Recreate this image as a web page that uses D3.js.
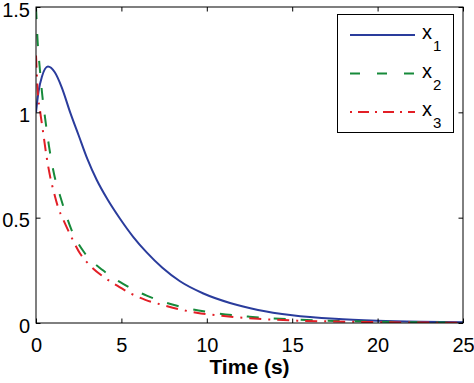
<!DOCTYPE html>
<html><head><meta charset="utf-8">
<script src="https://cdn.jsdelivr.net/npm/d3@7"></script>
<style>html,body{margin:0;padding:0;background:#fff;}svg{display:block;}</style>
</head><body>
<script>
// Data
const seriesNames = ["1", "2", "3"];
const t1 = [0, 0.15, 0.35, 0.7, 1.1, 1.5, 2.0, 2.5, 3.0, 3.55, 4.2, 4.92, 5.7, 6.48, 7.4, 8.43, 9.8, 11.36, 13, 15, 17.5, 20, 22.5, 25];
const x1 = [1.0, 1.1, 1.17, 1.217, 1.19, 1.12, 1.0, 0.89, 0.78, 0.68, 0.585, 0.495, 0.408, 0.335, 0.262, 0.198, 0.14, 0.095, 0.062, 0.037, 0.02, 0.011, 0.006, 0.003];
const t2 = [0, 0.1, 0.21, 0.37, 0.57, 0.76, 1.05, 1.48, 2.09, 2.87, 3.92, 5.1, 6.48, 8.2, 10, 12.5, 15, 17.5, 20, 25];
const x2 = [1.5, 1.33, 1.22, 1.08, 0.95, 0.84, 0.71, 0.585, 0.44, 0.33, 0.25, 0.186, 0.13, 0.083, 0.053, 0.03, 0.017, 0.01, 0.006, 0.002];
const t3 = [0, 0.1, 0.25, 0.41, 0.6, 0.84, 1.05, 1.29, 1.6, 2.0, 2.58, 3.2, 3.94, 4.7, 5.5, 6.4, 7.45, 8.4, 9.4, 11, 13, 15, 17.5, 20, 25];
const x3 = [1.27, 1.1, 1.0, 0.91, 0.8, 0.69, 0.62, 0.55, 0.49, 0.42, 0.33, 0.27, 0.22, 0.18, 0.142, 0.11, 0.085, 0.065, 0.049, 0.033, 0.02, 0.012, 0.007, 0.004, 0.001];
const xTicks = [0, 5, 10, 15, 20, 25];
const yTicks = [0, 0.5, 1, 1.5];
const yTickLabels = ["0", "0.5", "1", "1.5"];
const xLabel = "Time (s)";

const W = 474, H = 383;
const m = {l: 36, r: 11, t: 7, b: 60};
const svg = d3.select("body").append("svg").attr("width", W).attr("height", H)
  .style("font-family", "'Liberation Sans', Arial, Helvetica, sans-serif");

const x = d3.scaleLinear().domain([0, 25]).range([m.l, W - m.r]);
const y = d3.scaleLinear().domain([0, 1.5]).range([H - m.b, m.t]);

svg.append("defs").append("clipPath").attr("id", "clip")
  .append("rect").attr("x", m.l).attr("y", m.t).attr("width", W - m.r - m.l).attr("height", H - m.b - m.t);

const styles = [
  {color: "#2a3c9c", dash: null},
  {color: "#168a3a", dash: "12,15"},
  {color: "#e21f26", dash: "12,7,2,7"}
];
const data = [
  t1.map((t, i) => [t, x1[i]]),
  t2.map((t, i) => [t, x2[i]]),
  t3.map((t, i) => [t, x3[i]])
];
const line = d3.line().x(d => x(d[0])).y(d => y(d[1])).curve(d3.curveMonotoneX);

const g = svg.append("g").attr("clip-path", "url(#clip)");
data.forEach((d, i) => {
  g.append("path").datum(d).attr("d", line)
    .attr("fill", "none").attr("stroke", styles[i].color).attr("stroke-width", 2)
    .attr("stroke-dasharray", styles[i].dash);
});

// Axes
const tl = 4.5;
const axB = svg.append("g").attr("transform", `translate(0,${H - m.b})`)
  .call(d3.axisBottom(x).tickValues(xTicks).tickSize(-tl).tickPadding(14.5).tickFormat(d3.format("d")));
const axT = svg.append("g").attr("transform", `translate(0,${m.t})`)
  .call(d3.axisTop(x).tickValues(xTicks).tickSize(-tl).tickFormat(""));
const axL = svg.append("g").attr("transform", `translate(${m.l},0)`)
  .call(d3.axisLeft(y).tickValues(yTicks).tickSize(-tl).tickPadding(6).tickFormat((d, i) => yTickLabels[i]));
const axR = svg.append("g").attr("transform", `translate(${W - m.r},0)`)
  .call(d3.axisRight(y).tickValues(yTicks).tickSize(-tl).tickFormat(""));
[axB, axT, axL, axR].forEach(a => {
  a.select(".domain").remove();
  a.selectAll("line").attr("stroke", "#000").attr("stroke-width", 1);
  a.selectAll("text").attr("font-size", 20).attr("fill", "#000").attr("font-family", "'Liberation Sans', Arial, sans-serif");
});
axL.selectAll("text").attr("dy", "0.45em");

svg.append("rect").attr("x", m.l).attr("y", m.t).attr("width", W - m.r - m.l).attr("height", H - m.b - m.t)
  .attr("fill", "none").attr("stroke", "#000").attr("stroke-width", 1);

svg.append("text").attr("x", (m.l + W - m.r) / 2).attr("y", 373.5).attr("text-anchor", "middle")
  .attr("font-size", 21).attr("font-weight", "bold").attr("fill", "#000").text(xLabel);

// Legend
const lg = svg.append("g");
lg.append("rect").attr("x", 337.5).attr("y", 14.5).attr("width", 116).attr("height", 118)
  .attr("fill", "#fff").attr("stroke", "#000").attr("stroke-width", 1);
seriesNames.forEach((n, i) => {
  const yy = 35 + i * 38.5;
  lg.append("line").attr("x1", 350).attr("x2", 415).attr("y1", yy).attr("y2", yy)
    .attr("stroke", styles[i].color).attr("stroke-width", 2).attr("stroke-dasharray", styles[i].dash ? (i === 1 ? "10,17" : "2,6,11,6") : null);
  const tx = lg.append("text").attr("x", 422).attr("y", yy + 4).attr("font-size", 20).attr("fill", "#000");
  tx.append("tspan").text("x");
  tx.append("tspan").attr("font-size", 15).attr("dy", 12).attr("dx", 1).text(n);
});
</script>
</body></html>
